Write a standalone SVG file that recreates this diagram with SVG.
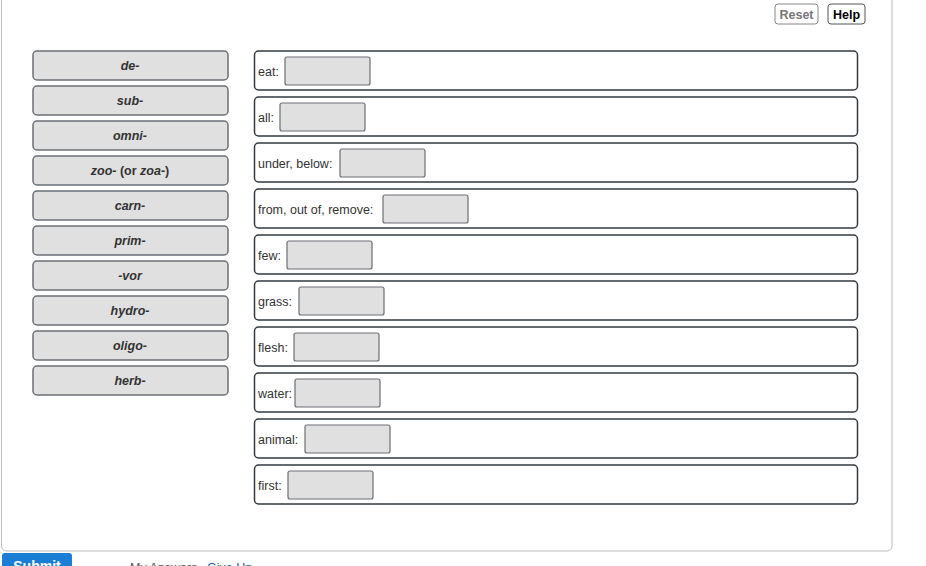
<svg xmlns="http://www.w3.org/2000/svg" width="926" height="566" viewBox="0 0 926 566">
<style>
text{font-family:"Liberation Sans",Arial,sans-serif;font-size:12.5px;fill:#333}
.tile rect{fill:#e0e0e0;stroke:#6b6f75;stroke-width:1.5}
.tile text{font-weight:bold;font-style:italic;text-anchor:middle}
.row rect.o{fill:#fff;stroke:#333a40;stroke-width:1.5}
.row rect.i{fill:#e0e0e0;stroke:#6b6f75;stroke-width:1.2}
</style>
<rect width="926" height="566" fill="#fff"/>
<path d="M1.5,-10 V546 a5,5 0 0 0 5,5 H887 a5,5 0 0 0 5,-5 V-10" fill="none" stroke="#bdbdbd" stroke-width="1"/>
<g id="reset"><rect x="775" y="4" width="43" height="20" rx="3" fill="#fff" stroke="#888"/><text x="796.5" y="18.5" text-anchor="middle" font-weight="bold" style="fill:#777">Reset</text></g>
<g id="help"><rect x="828" y="4" width="37" height="20" rx="3" fill="#fff" stroke="#555"/><text x="846.5" y="18.5" text-anchor="middle" font-weight="bold" style="fill:#000">Help</text></g>
<g class="tile" id="t1"><rect x="33" y="51" width="195" height="29" rx="4"/><text x="130" y="70">de-</text></g>
<g class="tile" id="t2"><rect x="33" y="86" width="195" height="29" rx="4"/><text x="130" y="105">sub-</text></g>
<g class="tile" id="t3"><rect x="33" y="121" width="195" height="29" rx="4"/><text x="130" y="140">omni-</text></g>
<g class="tile" id="t4"><rect x="33" y="156" width="195" height="29" rx="4"/><text x="130" y="175">zoo-<tspan font-style="normal"> (or </tspan>zoa<tspan font-style="normal">-)</tspan></text></g>
<g class="tile" id="t5"><rect x="33" y="191" width="195" height="29" rx="4"/><text x="130" y="210">carn-</text></g>
<g class="tile" id="t6"><rect x="33" y="226" width="195" height="29" rx="4"/><text x="130" y="245">prim-</text></g>
<g class="tile" id="t7"><rect x="33" y="261" width="195" height="29" rx="4"/><text x="130" y="280">-vor</text></g>
<g class="tile" id="t8"><rect x="33" y="296" width="195" height="29" rx="4"/><text x="130" y="315">hydro-</text></g>
<g class="tile" id="t9"><rect x="33" y="331" width="195" height="29" rx="4"/><text x="130" y="350">oligo-</text></g>
<g class="tile" id="t10"><rect x="33" y="366" width="195" height="29" rx="4"/><text x="130" y="385">herb-</text></g>
<g class="row" id="r1"><rect class="o" x="254.5" y="51" width="603" height="39" rx="4"/><text x="258" y="76">eat:</text><rect class="i" x="285" y="57" width="85" height="28" rx="2"/></g>
<g class="row" id="r2"><rect class="o" x="254.5" y="97" width="603" height="39" rx="4"/><text x="258" y="122">all:</text><rect class="i" x="280" y="103" width="85" height="28" rx="2"/></g>
<g class="row" id="r3"><rect class="o" x="254.5" y="143" width="603" height="39" rx="4"/><text x="258" y="168">under, below:</text><rect class="i" x="340" y="149" width="85" height="28" rx="2"/></g>
<g class="row" id="r4"><rect class="o" x="254.5" y="189" width="603" height="39" rx="4"/><text x="258" y="214">from, out of, remove:</text><rect class="i" x="383" y="195" width="85" height="28" rx="2"/></g>
<g class="row" id="r5"><rect class="o" x="254.5" y="235" width="603" height="39" rx="4"/><text x="258" y="260">few:</text><rect class="i" x="287" y="241" width="85" height="28" rx="2"/></g>
<g class="row" id="r6"><rect class="o" x="254.5" y="281" width="603" height="39" rx="4"/><text x="258" y="306">grass:</text><rect class="i" x="299" y="287" width="85" height="28" rx="2"/></g>
<g class="row" id="r7"><rect class="o" x="254.5" y="327" width="603" height="39" rx="4"/><text x="258" y="352">flesh:</text><rect class="i" x="294" y="333" width="85" height="28" rx="2"/></g>
<g class="row" id="r8"><rect class="o" x="254.5" y="373" width="603" height="39" rx="4"/><text x="258" y="398">water:</text><rect class="i" x="295" y="379" width="85" height="28" rx="2"/></g>
<g class="row" id="r9"><rect class="o" x="254.5" y="419" width="603" height="39" rx="4"/><text x="258" y="444">animal:</text><rect class="i" x="305" y="425" width="85" height="28" rx="2"/></g>
<g class="row" id="r10"><rect class="o" x="254.5" y="465" width="603" height="39" rx="4"/><text x="258" y="490">first:</text><rect class="i" x="288" y="471" width="85" height="28" rx="2"/></g>
<g id="submit"><rect x="2" y="553" width="70" height="24" rx="3" fill="#1a7fd4"/><text x="37" y="571" text-anchor="middle" font-weight="bold" style="fill:#fff;font-size:14px">Submit</text></g>
<text x="130" y="572" style="fill:#555">My Answers</text><text x="207" y="572" style="fill:#1a5fa8">Give Up</text>
</svg>
